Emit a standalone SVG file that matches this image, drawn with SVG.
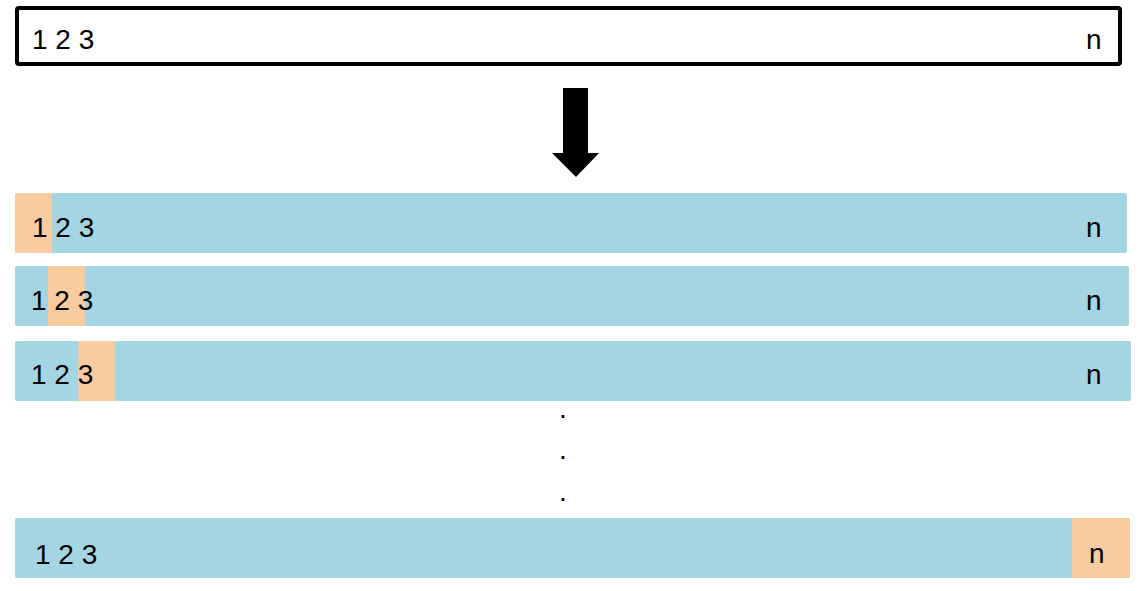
<svg xmlns="http://www.w3.org/2000/svg" width="1144" height="591" viewBox="0 0 1144 591">
<style>
.t{font-family:"Liberation Sans",Arial,sans-serif;font-size:28px;fill:#000}
.bar{fill:#A3D5E3}
.hl{fill:#F8CBA0}
</style>
<rect width="1144" height="591" fill="#fff"/>
<g id="input">
<rect x="17" y="8" width="1103" height="56" rx="2" fill="#fff" stroke="#000" stroke-width="4"/>
<text class="t" x="32" y="49">1 2 3</text>
<text class="t" x="1086" y="49">n</text>
</g>
<g id="connectors">
<polygon points="563,88 588,88 588,153 599,153 576,177 552,153 563,153" fill="#000"/>
</g>
<g id="row1">
<rect class="bar" x="15" y="193" width="1112" height="60" rx="2"/>
<path class="hl" d="M17,193 H52 V253 H17 A2,2 0 0 1 15,251 V195 A2,2 0 0 1 17,193 Z"/>
<text class="t" x="32" y="237">1 2 3</text>
<text class="t" x="1086" y="237">n</text>
</g>
<g id="row2">
<rect class="bar" x="15" y="266" width="1114" height="60" rx="2"/>
<rect class="hl" x="48" y="266" width="37" height="60"/>
<text class="t" x="31" y="310">1 2 3</text>
<text class="t" x="1086" y="310">n</text>
</g>
<g id="row3">
<rect class="bar" x="15" y="341" width="1116" height="60" rx="2"/>
<rect class="hl" x="78" y="341" width="37" height="60"/>
<text class="t" x="31" y="384">1 2 3</text>
<text class="t" x="1086" y="384">n</text>
</g>
<g id="ellipsis">
<text class="t" x="563" y="418" text-anchor="middle">.</text>
<text class="t" x="563" y="459" text-anchor="middle">.</text>
<text class="t" x="563" y="501" text-anchor="middle">.</text>
</g>
<g id="rowN">
<rect class="bar" x="15" y="518" width="1115" height="60" rx="2"/>
<path class="hl" d="M1072,518 H1128 A2,2 0 0 1 1130,520 V576 A2,2 0 0 1 1128,578 H1072 Z"/>
<text class="t" x="35" y="564">1 2 3</text>
<text class="t" x="1089" y="563">n</text>
</g>
</svg>
